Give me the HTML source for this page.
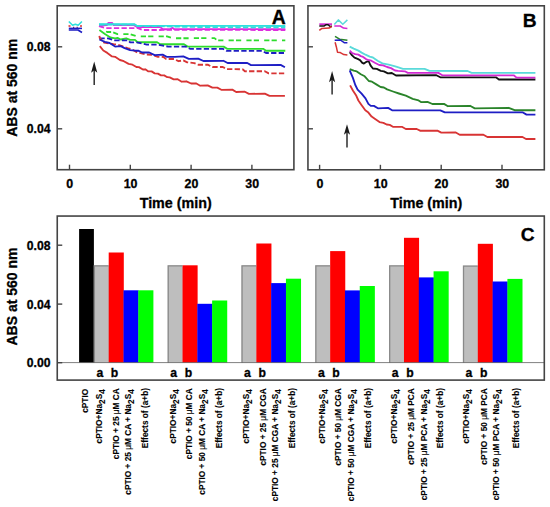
<!DOCTYPE html>
<html><head><meta charset="utf-8"><style>
html,body{margin:0;padding:0;background:#fff;}
svg{display:block;font-family:"Liberation Sans", sans-serif;}
text{stroke:#000;stroke-width:0.3px;}
text.s{stroke-width:0.12px;}
</style></head><body>
<svg width="550" height="507" viewBox="0 0 550 507">
<rect width="550" height="507" fill="#fff"/>
<path d="M68.8,21.5 L72.6,25.3 L75.4,24.2 L78.2,25.3 L81.9,21.5" stroke="#2ee0dc" stroke-width="1.6" fill="none" stroke-linejoin="round"/>
<path d="M73.0,27.4 L74.2,27.4" stroke="#802060" stroke-width="1.4" fill="none" stroke-linejoin="round"/>
<path d="M76.6,27.4 L77.8,27.4" stroke="#802060" stroke-width="1.4" fill="none" stroke-linejoin="round"/>
<path d="M68.5,26.0 L70.5,26.0" stroke="#d83434" stroke-width="1.6" fill="none" stroke-linejoin="round"/>
<path d="M80.0,26.0 L82.0,26.0" stroke="#d83434" stroke-width="1.6" fill="none" stroke-linejoin="round"/>
<path d="M68.8,28.4 L82.0,28.4" stroke="#1e1ec4" stroke-width="1.6" fill="none" stroke-linejoin="round"/>
<path d="M68.8,30.0 L78.0,30.0 L82.0,32.5" stroke="#1e1ec4" stroke-width="1.6" fill="none" stroke-linejoin="round"/>
<path d="M99.0,26.0 L104.0,27.6 L106.0,28.1 L138.0,28.1 L142.5,30.0 L160.0,30.0 L163.0,29.8 L285.3,30.0" stroke="#de2ede" stroke-width="1.85" fill="none" stroke-linejoin="round" stroke-dasharray="5.3,2.3"/>
<path d="M99.0,25.5 L107.0,25.0 L108.5,22.8 L112.0,22.8 L113.5,25.0 L134.0,25.2 L137.0,27.0 L160.0,27.0 L163.0,29.2 L170.0,29.2 L172.4,27.8 L174.0,29.0 L285.3,29.2" stroke="#de2ede" stroke-width="1.85" fill="none" stroke-linejoin="round"/>
<path d="M99.0,24.2 L134.5,24.2 L136.6,25.6 L200.0,25.8 L285.3,26.0" stroke="#2ee0dc" stroke-width="1.85" fill="none" stroke-linejoin="round"/>
<path d="M99.0,24.6 L134.5,24.6 L136.6,26.0 L160.0,26.2 L190.0,26.9 L245.0,27.3 L285.3,27.4" stroke="#2ee0dc" stroke-width="1.85" fill="none" stroke-linejoin="round" stroke-dasharray="5.3,2.3"/>
<path d="M106.0,31.5 L107.3,32.0 L112.0,32.0 L117.5,34.1 L130.1,34.1 L135.7,35.9 L137.0,36.3 L167.0,36.3 L172.5,38.3 L214.5,38.1 L217.0,40.3 L285.3,40.4" stroke="#2ddc2d" stroke-width="1.85" fill="none" stroke-linejoin="round" stroke-dasharray="5.2,2.2,5.2,5.2"/>
<path d="M99.4,30.0 L104.9,33.9 L110.4,37.5 L115.1,38.3 L117.5,37.9 L120.7,39.5 L126.2,38.3 L130.1,39.9 L135.0,39.9 L137.5,42.2 L157.1,42.2 L160.2,44.2 L184.0,44.2 L187.6,46.6 L223.6,46.6 L227.2,48.8 L263.2,48.8 L266.0,50.7 L285.3,50.7" stroke="#2ddc2d" stroke-width="1.85" fill="none" stroke-linejoin="round"/>
<path d="M99.4,38.3 L108.0,38.3 L114.8,40.3 L127.8,40.3 L130.1,42.3 L137.0,42.3 L146.8,44.6 L157.9,44.6 L168.1,46.6 L186.0,46.7 L190.0,48.8 L222.8,48.8 L226.8,50.9 L262.4,50.9 L266.0,53.0 L285.3,53.0" stroke="#1e1ec4" stroke-width="1.85" fill="none" stroke-linejoin="round" stroke-dasharray="5.3,2.3"/>
<path d="M99.4,35.9 L99.8,38.0 L104.1,42.6 L113.6,44.2 L117.1,44.5 L122.2,46.2 L128.6,48.5 L131.7,49.2 L137.4,52.5 L146.0,54.5 L152.0,54.8 L157.9,56.8 L163.4,57.0 L166.2,59.0 L174.0,59.0 L178.5,61.2 L183.3,60.4 L187.2,62.3 L194.3,63.1 L198.2,64.7 L207.7,64.7 L212.4,67.0 L222.8,67.0 L226.8,69.1 L242.6,69.3 L244.9,71.3 L264.8,71.2 L268.7,73.4 L285.3,73.4" stroke="#d83434" stroke-width="1.85" fill="none" stroke-linejoin="round" stroke-dasharray="5.3,2.3"/>
<path d="M99.4,39.5 L104.9,41.8 L109.6,43.0 L115.1,46.6 L120.7,46.2 L124.6,48.1 L130.1,50.1 L135.0,50.7 L138.2,50.7 L142.1,52.5 L149.2,52.5 L154.7,55.1 L162.6,54.6 L166.6,56.8 L175.0,56.8 L183.3,56.4 L188.8,58.8 L198.2,58.6 L203.4,61.0 L223.4,60.8 L227.6,63.0 L247.3,63.0 L251.0,65.1 L280.6,64.9 L284.9,67.2" stroke="#1e1ec4" stroke-width="1.85" fill="none" stroke-linejoin="round"/>
<path d="M99.8,46.2 L103.3,50.5 L107.3,52.9 L112.0,56.4 L115.1,56.8 L119.9,60.0 L123.8,61.2 L128.6,63.9 L132.5,64.7 L136.4,67.0 L138.9,67.1 L142.9,69.5 L145.3,69.3 L148.4,71.4 L151.6,71.4 L154.7,73.4 L157.9,73.6 L161.0,75.4 L164.2,75.4 L167.3,77.2 L169.7,77.4 L173.7,79.4 L177.7,79.2 L181.7,81.7 L186.4,81.3 L191.1,83.5 L195.9,83.3 L200.2,85.7 L207.7,85.4 L212.4,87.6 L217.3,87.6 L221.3,89.8 L232.3,89.6 L236.2,92.0 L244.9,91.7 L248.9,93.9 L264.8,93.6 L269.5,95.9 L284.9,95.9" stroke="#d83434" stroke-width="1.85" fill="none" stroke-linejoin="round"/>
<path d="M319.3,24.2 L332.0,24.2" stroke="#d22ad2" stroke-width="1.8" fill="none" stroke-linejoin="round"/>
<path d="M319.3,26.1 L323.9,26.1 L325.8,24.8 L328.1,24.8 L330.1,26.5 L332.0,26.3" stroke="#111" stroke-width="1.5" fill="none" stroke-linejoin="round"/>
<path d="M319.3,30.4 L321.9,28.4 L329.1,28.1 L331.7,26.5" stroke="#d83434" stroke-width="1.5" fill="none" stroke-linejoin="round"/>
<path d="M334.3,24.5 L338.3,19.9 L342.8,24.2 L347.4,19.9" stroke="#5adada" stroke-width="1.5" fill="none" stroke-linejoin="round"/>
<path d="M334.3,26.0 L340.2,26.0 L343.5,28.1 L347.4,28.4" stroke="#d22ad2" stroke-width="1.5" fill="none" stroke-linejoin="round"/>
<path d="M335.0,36.3 L339.6,39.2 L347.4,40.3" stroke="#2a842a" stroke-width="1.5" fill="none" stroke-linejoin="round"/>
<path d="M334.7,40.3 L340.3,40.0 L344.2,42.7 L347.4,42.7" stroke="#1e1ec4" stroke-width="1.5" fill="none" stroke-linejoin="round"/>
<path d="M335.1,42.3 L336.3,46.7 L337.5,52.2 L340.3,52.6 L343.8,54.6 L347.4,55.0" stroke="#d83434" stroke-width="1.5" fill="none" stroke-linejoin="round"/>
<path d="M349.7,46.7 L353.7,48.7 L358.4,50.6 L361.6,52.6 L365.5,54.7 L369.7,56.7 L372.9,57.5 L377.6,60.7 L382.4,63.4 L388.7,64.6 L393.4,65.8 L396.9,66.8 L402.9,68.8 L424.6,68.8 L429.5,70.8 L467.6,71.0 L471.6,72.8 L535.4,72.8" stroke="#5adada" stroke-width="1.85" fill="none" stroke-linejoin="round"/>
<path d="M349.7,52.2 L352.1,55.4 L354.5,57.7 L357.6,58.9 L360.0,60.1 L362.3,62.9 L363.9,63.6 L366.5,61.8 L368.6,61.0 L370.5,65.4 L372.9,68.5 L376.8,68.9 L380.8,70.9 L383.9,71.3 L387.9,73.3 L391.8,73.0 L396.0,75.5 L436.4,75.2 L440.3,77.3 L495.9,77.3 L498.9,79.5 L535.4,79.5" stroke="#111" stroke-width="1.85" fill="none" stroke-linejoin="round"/>
<path d="M349.7,50.6 L352.1,53.0 L355.2,54.2 L358.4,54.6 L360.8,56.1 L363.1,56.9 L366.3,59.3 L368.2,59.9 L371.3,60.7 L375.3,63.0 L379.2,65.0 L383.1,65.4 L387.1,67.0 L391.0,68.1 L395.0,70.5 L398.1,70.9 L404.8,71.3 L407.8,72.9 L438.4,72.9 L442.3,75.2 L444.9,75.3 L513.7,75.3 L516.6,77.6 L535.4,77.6" stroke="#d22ad2" stroke-width="1.85" fill="none" stroke-linejoin="round"/>
<path d="M349.7,69.2 L353.7,70.7 L356.8,71.4 L360.8,74.3 L364.7,76.3 L368.8,81.0 L372.0,81.7 L376.7,84.6 L380.6,87.0 L383.9,87.5 L387.1,89.4 L393.0,91.5 L398.9,93.5 L405.8,95.7 L412.7,98.8 L418.6,100.4 L421.0,102.1 L427.5,101.9 L432.4,104.0 L444.0,103.9 L447.9,106.2 L470.0,105.8 L474.8,108.4 L508.7,107.8 L514.6,110.2 L535.4,110.2" stroke="#2a842a" stroke-width="1.85" fill="none" stroke-linejoin="round"/>
<path d="M349.7,70.4 L352.9,77.9 L355.3,85.0 L357.6,89.7 L361.6,93.7 L365.5,98.4 L368.4,103.9 L370.8,105.9 L373.9,105.9 L377.9,108.3 L388.1,107.9 L392.1,110.3 L440.3,110.3 L444.9,112.4 L522.5,112.3 L526.5,114.6 L535.4,114.6" stroke="#1e1ec4" stroke-width="1.85" fill="none" stroke-linejoin="round"/>
<path d="M350.1,85.4 L352.9,90.5 L356.0,95.2 L358.4,100.5 L361.3,104.7 L365.3,110.3 L368.4,112.6 L371.6,116.6 L375.5,119.3 L379.5,122.1 L383.4,122.9 L386.6,124.5 L389.7,124.9 L392.9,126.8 L401.9,126.8 L405.8,129.0 L416.7,129.0 L420.1,130.7 L437.4,130.7 L441.3,132.6 L455.8,132.5 L459.7,134.7 L483.4,134.7 L487.4,137.0 L522.5,137.0 L526.0,139.0 L535.4,139.0" stroke="#d83434" stroke-width="1.85" fill="none" stroke-linejoin="round"/>
<path d="M94.2,66.4 V85" stroke="#262626" stroke-width="1.45" fill="none"/><path d="M94.2,61.6 L91.10000000000001,72.8 L94.2,70.3 L97.3,72.8 Z" fill="#1a1a1a"/>
<path d="M332.1,75.9 V94.4" stroke="#262626" stroke-width="1.45" fill="none"/><path d="M332.1,71.10000000000001 L329.0,82.2 L332.1,79.7 L335.20000000000005,82.2 Z" fill="#1a1a1a"/>
<path d="M347,129 V147.6" stroke="#262626" stroke-width="1.45" fill="none"/><path d="M347,124.2 L343.9,134.8 L347,132.3 L350.1,134.8 Z" fill="#1a1a1a"/>
<rect x="57.2" y="5.8" width="236.70" height="163.90" fill="none" stroke="#444" stroke-width="1.6"/>
<path d="M57.2,46.8 H62.2" stroke="#444" stroke-width="1.4"/>
<path d="M57.2,128.8 H62.2" stroke="#444" stroke-width="1.4"/>
<path d="M69.5,169.7 V164.7" stroke="#444" stroke-width="1.4"/>
<text x="69.8" y="188.3" font-size="12.4" font-weight="bold" text-anchor="middle" font-family='"Liberation Sans", sans-serif'>0</text>
<path d="M130.3,169.7 V164.7" stroke="#444" stroke-width="1.4"/>
<text x="130.6" y="188.3" font-size="12.4" font-weight="bold" text-anchor="middle" font-family='"Liberation Sans", sans-serif'>10</text>
<path d="M191.1,169.7 V164.7" stroke="#444" stroke-width="1.4"/>
<text x="191.4" y="188.3" font-size="12.4" font-weight="bold" text-anchor="middle" font-family='"Liberation Sans", sans-serif'>20</text>
<path d="M251.9,169.7 V164.7" stroke="#444" stroke-width="1.4"/>
<text x="252.2" y="188.3" font-size="12.4" font-weight="bold" text-anchor="middle" font-family='"Liberation Sans", sans-serif'>30</text>
<text x="175.7" y="207.8" font-size="14.3" font-weight="bold" text-anchor="middle" font-family='"Liberation Sans", sans-serif'>Time (min)</text>
<rect x="307.95" y="5.8" width="236.35" height="164.00" fill="none" stroke="#444" stroke-width="1.6"/>
<path d="M307.95,46.8 H312.95" stroke="#444" stroke-width="1.4"/>
<path d="M307.95,128.8 H312.95" stroke="#444" stroke-width="1.4"/>
<path d="M319.6,169.8 V164.8" stroke="#444" stroke-width="1.4"/>
<text x="319.9" y="188.3" font-size="12.4" font-weight="bold" text-anchor="middle" font-family='"Liberation Sans", sans-serif'>0</text>
<path d="M380.4,169.8 V164.8" stroke="#444" stroke-width="1.4"/>
<text x="380.7" y="188.3" font-size="12.4" font-weight="bold" text-anchor="middle" font-family='"Liberation Sans", sans-serif'>10</text>
<path d="M441.2,169.8 V164.8" stroke="#444" stroke-width="1.4"/>
<text x="441.5" y="188.3" font-size="12.4" font-weight="bold" text-anchor="middle" font-family='"Liberation Sans", sans-serif'>20</text>
<path d="M502.0,169.8 V164.8" stroke="#444" stroke-width="1.4"/>
<text x="502.3" y="188.3" font-size="12.4" font-weight="bold" text-anchor="middle" font-family='"Liberation Sans", sans-serif'>30</text>
<text x="426.3" y="207.8" font-size="14.3" font-weight="bold" text-anchor="middle" font-family='"Liberation Sans", sans-serif'>Time (min)</text>
<text x="50.5" y="51.199999999999996" font-size="12.2" font-weight="bold" text-anchor="end" font-family='"Liberation Sans", sans-serif'>0.08</text>
<text x="50.5" y="133.20000000000002" font-size="12.2" font-weight="bold" text-anchor="end" font-family='"Liberation Sans", sans-serif'>0.04</text>
<text transform="translate(17,87.8) rotate(-90)" font-size="14" font-weight="bold" text-anchor="middle" font-family='"Liberation Sans", sans-serif'>ABS at 560 nm</text>
<text x="285.8" y="23.9" font-size="19.4" font-weight="bold" text-anchor="end" font-family='"Liberation Sans", sans-serif'>A</text>
<text x="536.6" y="26.7" font-size="19.2" font-weight="bold" text-anchor="end" font-family='"Liberation Sans", sans-serif'>B</text>
<rect x="79.10" y="229" width="14.8" height="133.60" fill="#000"/>
<rect x="93.90" y="265.3" width="15.100000000000001" height="97.30" fill="#bebebe"/>
<rect x="108.70" y="252.5" width="15.100000000000001" height="110.10" fill="#ff0000"/>
<rect x="123.50" y="290.3" width="15.100000000000001" height="72.30" fill="#0000ff"/>
<rect x="138.30" y="290.3" width="15.100000000000001" height="72.30" fill="#00ff00"/>
<path d="M94.40,362.6 V265.8 H108.70" stroke="#8a8a8a" stroke-width="1.3" fill="none"/>
<rect x="167.72" y="265.3" width="15.100000000000001" height="97.30" fill="#bebebe"/>
<rect x="182.52" y="265.3" width="15.100000000000001" height="97.30" fill="#ff0000"/>
<rect x="197.32" y="303.8" width="15.100000000000001" height="58.80" fill="#0000ff"/>
<rect x="212.12" y="300.5" width="15.100000000000001" height="62.10" fill="#00ff00"/>
<path d="M168.22,362.6 V265.8 H182.52" stroke="#8a8a8a" stroke-width="1.3" fill="none"/>
<rect x="241.54" y="265.3" width="15.100000000000001" height="97.30" fill="#bebebe"/>
<rect x="256.34" y="243.5" width="15.100000000000001" height="119.10" fill="#ff0000"/>
<rect x="271.14" y="283.1" width="15.100000000000001" height="79.50" fill="#0000ff"/>
<rect x="285.94" y="278.7" width="15.100000000000001" height="83.90" fill="#00ff00"/>
<path d="M242.04,362.6 V265.8 H256.34" stroke="#8a8a8a" stroke-width="1.3" fill="none"/>
<rect x="315.36" y="265.3" width="15.100000000000001" height="97.30" fill="#bebebe"/>
<rect x="330.16" y="251.1" width="15.100000000000001" height="111.50" fill="#ff0000"/>
<rect x="344.96" y="290.4" width="15.100000000000001" height="72.20" fill="#0000ff"/>
<rect x="359.76" y="286.0" width="15.100000000000001" height="76.60" fill="#00ff00"/>
<path d="M315.86,362.6 V265.8 H330.16" stroke="#8a8a8a" stroke-width="1.3" fill="none"/>
<rect x="389.18" y="265.4" width="15.100000000000001" height="97.20" fill="#bebebe"/>
<rect x="403.98" y="237.8" width="15.100000000000001" height="124.80" fill="#ff0000"/>
<rect x="418.78" y="277.4" width="15.100000000000001" height="85.20" fill="#0000ff"/>
<rect x="433.58" y="271.3" width="15.100000000000001" height="91.30" fill="#00ff00"/>
<path d="M389.68,362.6 V265.9 H403.98" stroke="#8a8a8a" stroke-width="1.3" fill="none"/>
<rect x="463.00" y="265.6" width="15.100000000000001" height="97.00" fill="#bebebe"/>
<rect x="477.80" y="243.8" width="15.100000000000001" height="118.80" fill="#ff0000"/>
<rect x="492.60" y="281.5" width="15.100000000000001" height="81.10" fill="#0000ff"/>
<rect x="507.40" y="278.9" width="15.100000000000001" height="83.70" fill="#00ff00"/>
<path d="M463.50,362.6 V266.1 H477.80" stroke="#8a8a8a" stroke-width="1.3" fill="none"/>
<path d="M57.25,362.6 H544.3" stroke="#555" stroke-opacity="0.75" stroke-width="1"/>
<rect x="57.25" y="216.05" width="487.05" height="164.05" fill="none" stroke="#444" stroke-width="1.6"/>
<path d="M57.25,245.2 H62.25" stroke="#444" stroke-width="1.4"/>
<text x="50.5" y="249.6" font-size="12.2" font-weight="bold" text-anchor="end" font-family='"Liberation Sans", sans-serif'>0.08</text>
<path d="M57.25,304.1 H62.25" stroke="#444" stroke-width="1.4"/>
<text x="50.5" y="308.5" font-size="12.2" font-weight="bold" text-anchor="end" font-family='"Liberation Sans", sans-serif'>0.04</text>
<path d="M57.25,362.7 H62.25" stroke="#444" stroke-width="1.4"/>
<text x="50.5" y="367.09999999999997" font-size="12.2" font-weight="bold" text-anchor="end" font-family='"Liberation Sans", sans-serif'>0.00</text>
<text transform="translate(17,296.5) rotate(-90)" font-size="14" font-weight="bold" text-anchor="middle" font-family='"Liberation Sans", sans-serif'>ABS at 560 nm</text>
<text x="534.7" y="240.5" font-size="19.2" font-weight="bold" text-anchor="end" font-family='"Liberation Sans", sans-serif'>C</text>
<text x="99.8" y="376.7" font-size="12.2" font-weight="bold" text-anchor="middle" font-family='"Liberation Sans", sans-serif'>a</text>
<text x="114.6" y="376.7" font-size="12.2" font-weight="bold" text-anchor="middle" font-family='"Liberation Sans", sans-serif'>b</text>
<text x="173.6" y="376.7" font-size="12.2" font-weight="bold" text-anchor="middle" font-family='"Liberation Sans", sans-serif'>a</text>
<text x="188.4" y="376.7" font-size="12.2" font-weight="bold" text-anchor="middle" font-family='"Liberation Sans", sans-serif'>b</text>
<text x="247.4" y="376.7" font-size="12.2" font-weight="bold" text-anchor="middle" font-family='"Liberation Sans", sans-serif'>a</text>
<text x="262.2" y="376.7" font-size="12.2" font-weight="bold" text-anchor="middle" font-family='"Liberation Sans", sans-serif'>b</text>
<text x="321.3" y="376.7" font-size="12.2" font-weight="bold" text-anchor="middle" font-family='"Liberation Sans", sans-serif'>a</text>
<text x="336.1" y="376.7" font-size="12.2" font-weight="bold" text-anchor="middle" font-family='"Liberation Sans", sans-serif'>b</text>
<text x="395.1" y="376.7" font-size="12.2" font-weight="bold" text-anchor="middle" font-family='"Liberation Sans", sans-serif'>a</text>
<text x="409.9" y="376.7" font-size="12.2" font-weight="bold" text-anchor="middle" font-family='"Liberation Sans", sans-serif'>b</text>
<text x="468.9" y="376.7" font-size="12.2" font-weight="bold" text-anchor="middle" font-family='"Liberation Sans", sans-serif'>a</text>
<text x="483.7" y="376.7" font-size="12.2" font-weight="bold" text-anchor="middle" font-family='"Liberation Sans", sans-serif'>b</text>
<text class="s" transform="translate(88.00,388.8) rotate(-90)" font-size="8.3" font-weight="bold" text-anchor="end" font-family='"Liberation Sans", sans-serif'>cPTIO</text>
<text class="s" transform="translate(101.90,389.2) rotate(-90)" font-size="8.3" font-weight="bold" text-anchor="end" font-family='"Liberation Sans", sans-serif'>cPTIO+Na<tspan dy="3">2</tspan><tspan dy="-3">S</tspan><tspan dy="3">4</tspan></text>
<text class="s" transform="translate(118.60,388.2) rotate(-90)" font-size="8.3" font-weight="bold" text-anchor="end" font-family='"Liberation Sans", sans-serif'>cPTIO + 25 <tspan font-weight="normal">&#956;</tspan>M CA</text>
<text class="s" transform="translate(131.20,389.2) rotate(-90)" font-size="8.3" font-weight="bold" text-anchor="end" font-family='"Liberation Sans", sans-serif'>cPTIO + 25 <tspan font-weight="normal">&#956;</tspan>M CA + Na<tspan dy="3">2</tspan><tspan dy="-3">S</tspan><tspan dy="3">4</tspan></text>
<text class="s" transform="translate(148.20,388.0) rotate(-90)" font-size="8.3" font-weight="bold" text-anchor="end" font-family='"Liberation Sans", sans-serif'>Effects of (a+b)</text>
<text class="s" transform="translate(175.72,389.2) rotate(-90)" font-size="8.3" font-weight="bold" text-anchor="end" font-family='"Liberation Sans", sans-serif'>cPTIO+Na<tspan dy="3">2</tspan><tspan dy="-3">S</tspan><tspan dy="3">4</tspan></text>
<text class="s" transform="translate(192.42,388.2) rotate(-90)" font-size="8.3" font-weight="bold" text-anchor="end" font-family='"Liberation Sans", sans-serif'>cPTIO + 50 <tspan font-weight="normal">&#956;</tspan>M CA</text>
<text class="s" transform="translate(205.32,389.2) rotate(-90)" font-size="8.3" font-weight="bold" text-anchor="end" font-family='"Liberation Sans", sans-serif'>cPTIO + 50 <tspan font-weight="normal">&#956;</tspan>M CA + Na<tspan dy="3">2</tspan><tspan dy="-3">S</tspan><tspan dy="3">4</tspan></text>
<text class="s" transform="translate(222.02,388.0) rotate(-90)" font-size="8.3" font-weight="bold" text-anchor="end" font-family='"Liberation Sans", sans-serif'>Effects of (a+b)</text>
<text class="s" transform="translate(248.84,389.2) rotate(-90)" font-size="8.3" font-weight="bold" text-anchor="end" font-family='"Liberation Sans", sans-serif'>cPTIO+Na<tspan dy="3">2</tspan><tspan dy="-3">S</tspan><tspan dy="3">4</tspan></text>
<text class="s" transform="translate(265.54,388.2) rotate(-90)" font-size="8.3" font-weight="bold" text-anchor="end" font-family='"Liberation Sans", sans-serif'>cPTIO + 25 <tspan font-weight="normal">&#956;</tspan>M CGA</text>
<text class="s" transform="translate(278.44,389.2) rotate(-90)" font-size="8.3" font-weight="bold" text-anchor="end" font-family='"Liberation Sans", sans-serif'>cPTIO + 25 <tspan font-weight="normal">&#956;</tspan>M CGA + Na<tspan dy="3">2</tspan><tspan dy="-3">S</tspan><tspan dy="3">4</tspan></text>
<text class="s" transform="translate(295.14,388.0) rotate(-90)" font-size="8.3" font-weight="bold" text-anchor="end" font-family='"Liberation Sans", sans-serif'>Effects of (a+b)</text>
<text class="s" transform="translate(325.36,389.2) rotate(-90)" font-size="8.3" font-weight="bold" text-anchor="end" font-family='"Liberation Sans", sans-serif'>cPTIO+Na<tspan dy="3">2</tspan><tspan dy="-3">S</tspan><tspan dy="3">4</tspan></text>
<text class="s" transform="translate(341.36,388.2) rotate(-90)" font-size="8.3" font-weight="bold" text-anchor="end" font-family='"Liberation Sans", sans-serif'>cPTIO + 50 <tspan font-weight="normal">&#956;</tspan>M CGA</text>
<text class="s" transform="translate(354.46,389.2) rotate(-90)" font-size="8.3" font-weight="bold" text-anchor="end" font-family='"Liberation Sans", sans-serif'>cPTIO + 50 <tspan font-weight="normal">&#956;</tspan>M CGA + Na<tspan dy="3">2</tspan><tspan dy="-3">S</tspan><tspan dy="3">4</tspan></text>
<text class="s" transform="translate(371.16,388.0) rotate(-90)" font-size="8.3" font-weight="bold" text-anchor="end" font-family='"Liberation Sans", sans-serif'>Effects of (a+b)</text>
<text class="s" transform="translate(397.18,389.2) rotate(-90)" font-size="8.3" font-weight="bold" text-anchor="end" font-family='"Liberation Sans", sans-serif'>cPTIO+Na<tspan dy="3">2</tspan><tspan dy="-3">S</tspan><tspan dy="3">4</tspan></text>
<text class="s" transform="translate(413.88,388.2) rotate(-90)" font-size="8.3" font-weight="bold" text-anchor="end" font-family='"Liberation Sans", sans-serif'>cPTIO + 25 <tspan font-weight="normal">&#956;</tspan>M PCA</text>
<text class="s" transform="translate(426.78,389.2) rotate(-90)" font-size="8.3" font-weight="bold" text-anchor="end" font-family='"Liberation Sans", sans-serif'>cPTIO + 25 <tspan font-weight="normal">&#956;</tspan>M PCA + Na<tspan dy="3">2</tspan><tspan dy="-3">S</tspan><tspan dy="3">4</tspan></text>
<text class="s" transform="translate(443.48,388.0) rotate(-90)" font-size="8.3" font-weight="bold" text-anchor="end" font-family='"Liberation Sans", sans-serif'>Effects of (a+b)</text>
<text class="s" transform="translate(469.00,389.2) rotate(-90)" font-size="8.3" font-weight="bold" text-anchor="end" font-family='"Liberation Sans", sans-serif'>cPTIO+Na<tspan dy="3">2</tspan><tspan dy="-3">S</tspan><tspan dy="3">4</tspan></text>
<text class="s" transform="translate(487.10,388.2) rotate(-90)" font-size="8.3" font-weight="bold" text-anchor="end" font-family='"Liberation Sans", sans-serif'>cPTIO + 50 <tspan font-weight="normal">&#956;</tspan>M PCA</text>
<text class="s" transform="translate(499.30,389.2) rotate(-90)" font-size="8.3" font-weight="bold" text-anchor="end" font-family='"Liberation Sans", sans-serif'>cPTIO + 50 <tspan font-weight="normal">&#956;</tspan>M PCA + Na<tspan dy="3">2</tspan><tspan dy="-3">S</tspan><tspan dy="3">4</tspan></text>
<text class="s" transform="translate(518.80,388.0) rotate(-90)" font-size="8.3" font-weight="bold" text-anchor="end" font-family='"Liberation Sans", sans-serif'>Effects of (a+b)</text>
</svg>
</body></html>
